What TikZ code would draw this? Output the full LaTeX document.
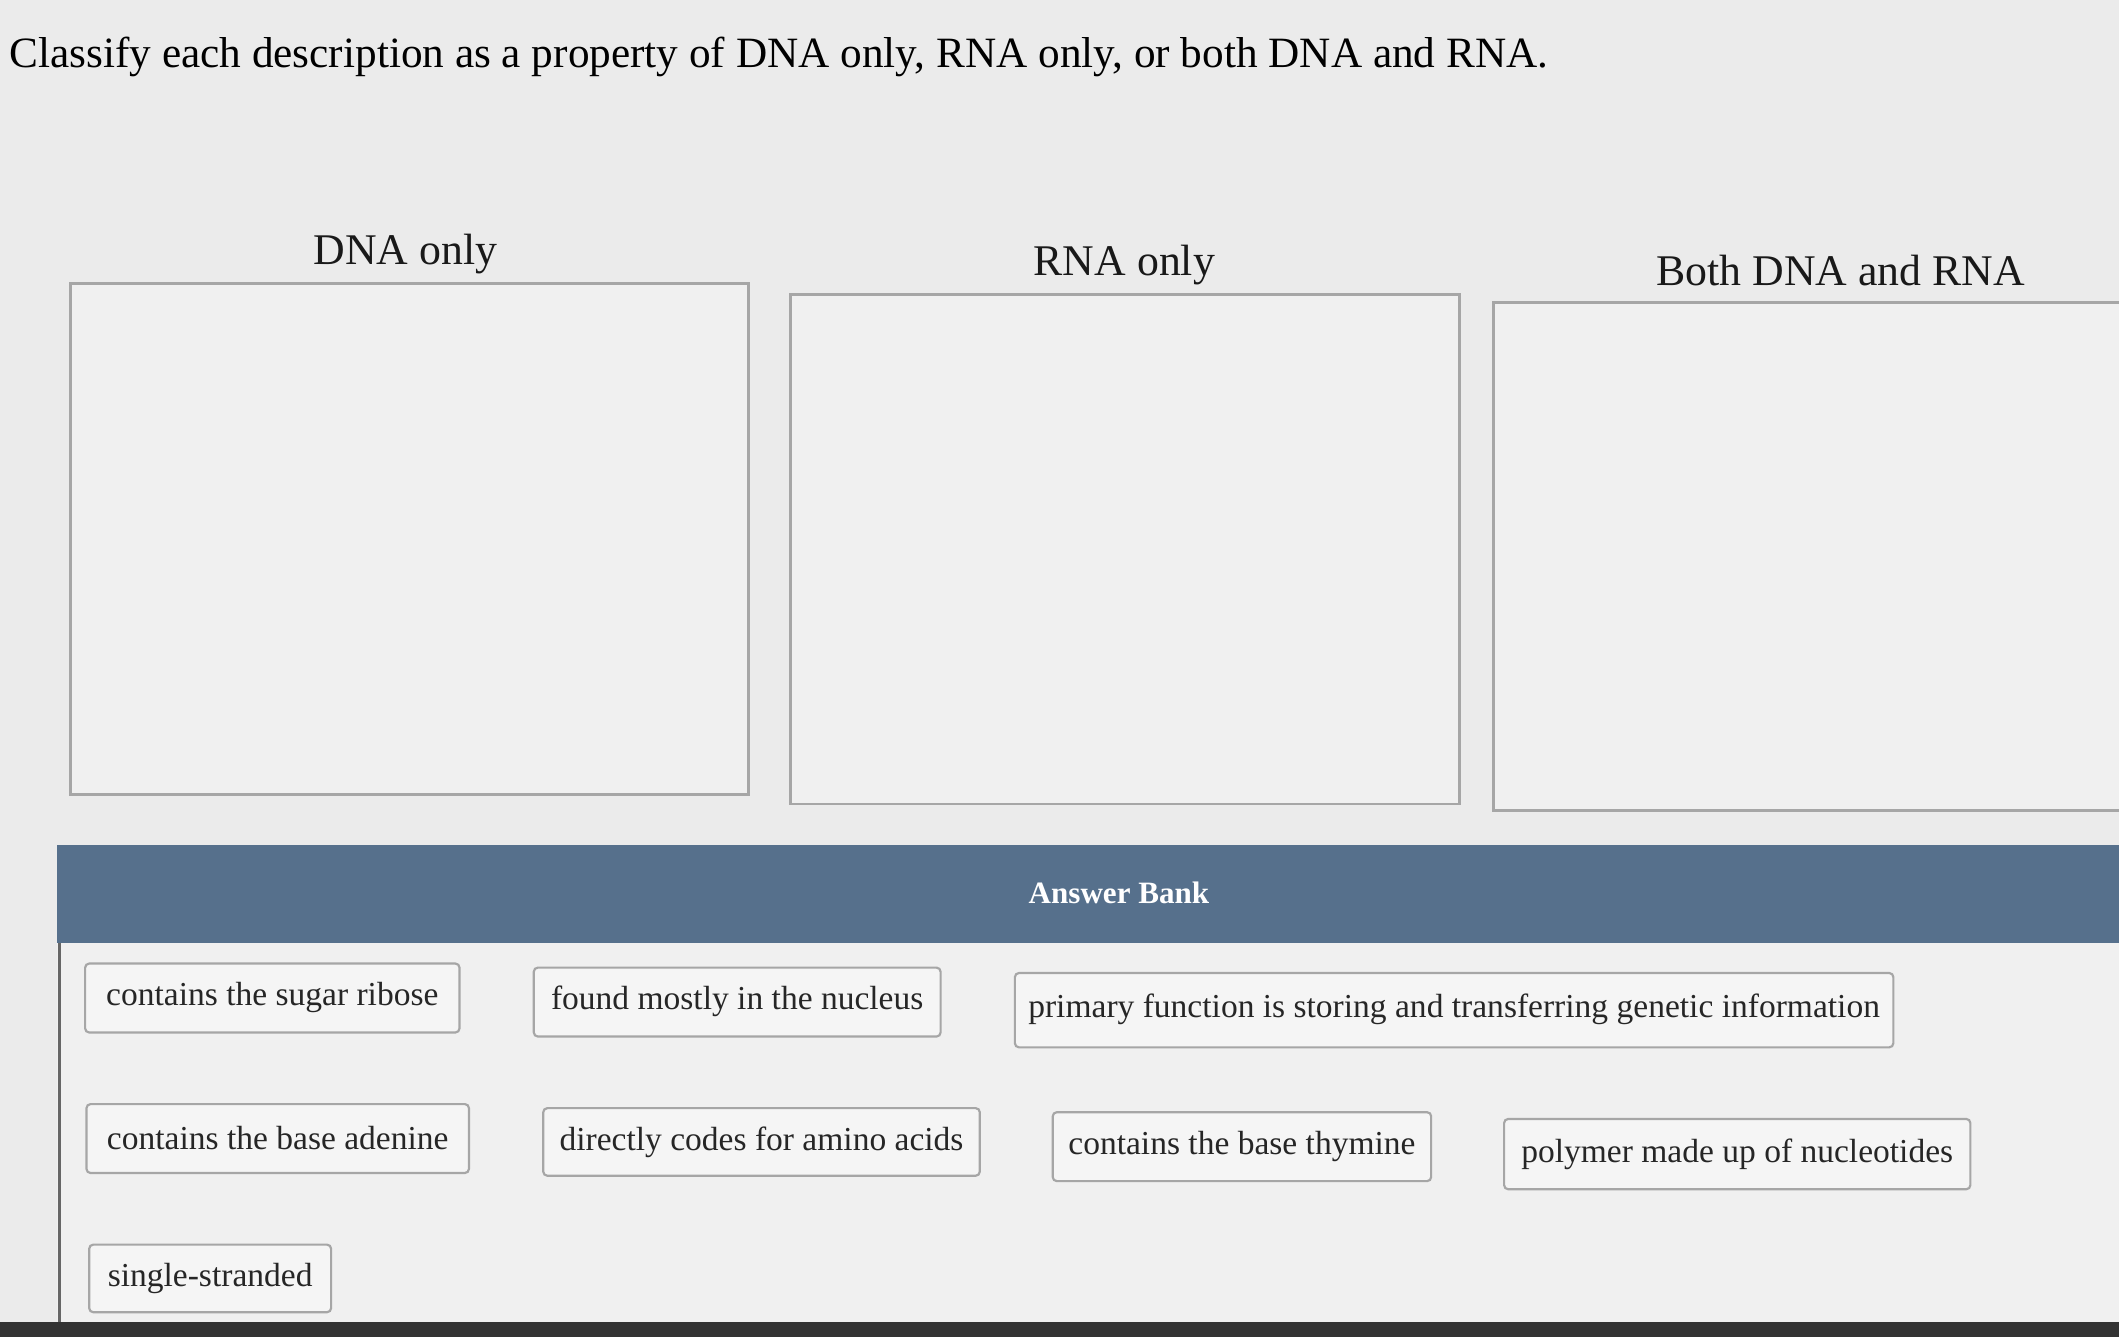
\documentclass[tikz,border=0pt]{standalone}
\usepackage{fontspec}
\setmainfont{Liberation Serif}
\begin{document}
\begin{tikzpicture}[x=0.5pt,y=-0.5pt,
  zone/.style={draw=black!35,line width=1pt},
  chip/.style={draw=black!35,fill=black!4,rounded corners=1.5pt,line width=0.8pt},
  chiptxt/.style={font=\fontsize{12.4}{14}\selectfont,text=black!85},
  head/.style={font=\fontsize{16.2}{18}\selectfont,text=black!90}]
\useasboundingbox (0,0) rectangle (1568,989);
\fill[black!8] (0,0) rectangle (1568,989);
\node[anchor=west,font=\fontsize{16}{18}\selectfont] (title) at (0,42) {Classify each description as a property of DNA only, RNA only, or both DNA and RNA.};
\node[head] (h1) at (300,188) {DNA only};
\node[head] (h2) at (832,196) {RNA only};
\node[head] (h3) at (1362,200) {Both DNA and RNA};
\draw[zone,fill=black!6] (52,210) rectangle (554,588);
\draw[zone,fill=black!6] (585,218) rectangle (1080,595);
\draw[zone,fill=black!6] (1568,224) -- (1105,224) -- (1105,600) -- (1568,600);
\fill[black!6] (42,698) rectangle (1568,978);
\draw[black!60,line width=1.2pt] (44,698) -- (44,978);
\fill[black!80] (0,978) rectangle (1568,989);
\fill[fill={rgb,255:red,86;green,112;blue,140}] (42,625) rectangle (1568,698);
\node[font=\fontsize{11.5}{13}\selectfont\bfseries,text=white] (ab) at (828,661) {Answer Bank};
\draw[chip] (63,713) rectangle (340,764); \node[chiptxt] (c1) at (201.5,738) {contains the sugar ribose};
\draw[chip] (395,716) rectangle (696,767); \node[chiptxt] (c2) at (545.5,741) {found mostly in the nucleus};
\draw[chip] (751,720) rectangle (1401,775); \node[chiptxt] (c3) at (1076,747) {primary function is storing and transferring genetic information};
\draw[chip] (64,817) rectangle (347,868); \node[chiptxt] (c4) at (205.5,842) {contains the base adenine};
\draw[chip] (402,820) rectangle (725,870); \node[chiptxt] (c5) at (563.5,845) {directly codes for amino acids};
\draw[chip] (779,823) rectangle (1059,874); \node[chiptxt] (c6) at (919,848) {contains the base thymine};
\draw[chip] (1113,828) rectangle (1458,880); \node[chiptxt] (c7) at (1285.5,854) {polymer made up of nucleotides};
\draw[chip] (66,921) rectangle (245,971); \node[chiptxt] (c8) at (155.5,946) {single-stranded};
\end{tikzpicture}
\end{document}
